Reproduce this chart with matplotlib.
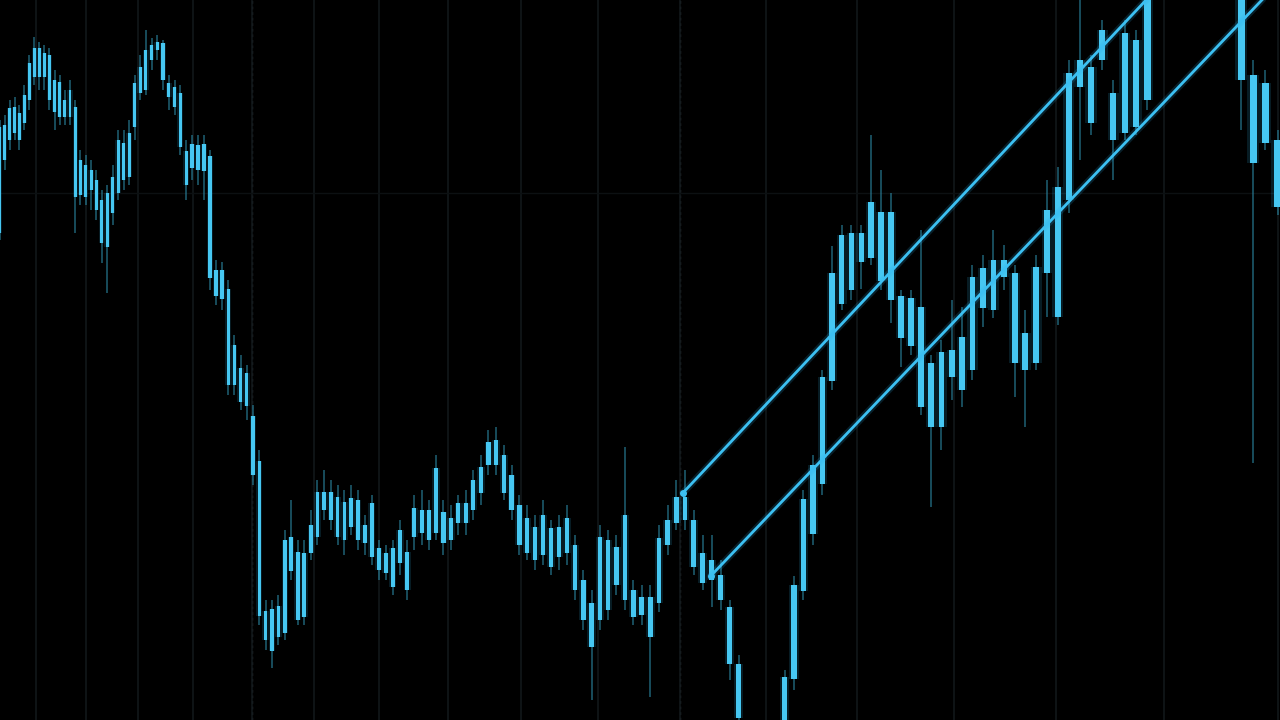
import numpy as np
import matplotlib
matplotlib.use("Agg")
import matplotlib.pyplot as plt

# one candle per session, prices in chart units
body_top = [
    593, 595, 612, 613, 607, 625, 657, 672, 672, 667,
    665, 640, 638, 620, 630, 613, 560, 555, 550, 540,
    520, 527, 543, 580, 577, 587, 637, 653, 670, 675,
    678, 677, 637, 633, 627, 569, 576, 575, 576, 564,
    450, 450, 431, 375, 352, 347, 304, 259, 109, 111,
    114, 180, 183, 168, 167, 195, 228, 228, 228, 223,
    218, 222, 220, 195, 217, 172, 167, 172, 190, 168,
    212, 210, 210, 252, 208, 202, 217, 217, 240, 253,
    278, 280, 265, 245, 215, 202, 193, 205, 192, 193,
    202, 175, 140, 117, 183, 180, 173, 205, 130, 123,
    123, 182, 200, 223, 223, 200, 167, 160, 145, 113,
    56, -10, -20, -25, -15, 43, 135, 221, 255, 343,
    447, 485, 487, 487, 518, 508, 508, 424, 422, 413,
    357, 368, 370, 383, 443, 452, 460, 460, 447, 387,
    453, 510, 533, 647, 660, 653, 690, 627, 687, 680,
    730, 850, 880, 900, 870, 860, 830, 800, 740, 645,
    637, 580,
]
body_bottom = [
    487, 560, 580, 587, 580, 597, 620, 643, 643, 643,
    620, 608, 603, 603, 603, 523, 525, 523, 530, 510,
    477, 473, 507, 527, 540, 543, 593, 627, 630, 660,
    670, 640, 623, 613, 573, 535, 552, 550, 549, 442,
    424, 421, 335, 335, 318, 314, 245, 104, 80, 69,
    83, 87, 149, 100, 103, 167, 183, 210, 200, 183,
    180, 193, 180, 177, 163, 150, 147, 133, 157, 130,
    183, 187, 180, 187, 177, 180, 197, 197, 210, 227,
    255, 255, 227, 210, 175, 167, 160, 165, 153, 163,
    167, 130, 100, 73, 100, 110, 135, 120, 103, 105,
    83, 117, 175, 197, 200, 153, 137, 140, 120, 56,
    2, -40, -60, -70, -50, -10, 41, 129, 186, 236,
    339, 416, 430, 458, 462, 439, 420, 382, 374, 313,
    293, 293, 343, 330, 350, 412, 410, 443, 357, 350,
    357, 447, 403, 520, 633, 597, 660, 580, 587, 593,
    620, 760, 800, 830, 790, 780, 760, 735, 640, 557,
    577, 513,
]
high = [
    600, 605, 620, 623, 615, 635, 665, 683, 678, 675,
    672, 650, 645, 630, 640, 620, 570, 565, 560, 550,
    530, 535, 555, 590, 590, 600, 645, 665, 690, 682,
    685, 680, 645, 640, 635, 580, 585, 585, 585, 570,
    460, 458, 440, 385, 365, 355, 315, 270, 120, 120,
    125, 190, 220, 180, 180, 210, 240, 250, 240, 235,
    230, 235, 230, 205, 225, 180, 175, 180, 200, 180,
    225, 230, 220, 265, 220, 215, 225, 230, 250, 265,
    290, 293, 275, 255, 225, 215, 205, 220, 200, 205,
    215, 185, 150, 130, 195, 190, 185, 273, 140, 135,
    135, 195, 215, 240, 250, 210, 185, 185, 160, 120,
    65, 0, -10, -15, -5, 50, 144, 230, 265, 350,
    474, 495, 495, 495, 585, 550, 527, 430, 430, 490,
    365, 380, 420, 413, 455, 465, 490, 475, 455, 410,
    465, 540, 553, 660, 720, 665, 700, 640, 700, 690,
    740, 870, 900, 920, 890, 880, 850, 830, 750, 660,
    650, 590,
]
low = [
    480, 550, 570, 580, 570, 590, 610, 635, 630, 630,
    610, 590, 595, 595, 595, 487, 515, 515, 510, 500,
    457, 427, 495, 520, 530, 535, 580, 620, 625, 650,
    660, 630, 610, 605, 565, 520, 540, 535, 520, 430,
    415, 410, 325, 325, 310, 300, 235, 95, 70, 52,
    75, 80, 140, 95, 95, 160, 175, 200, 190, 175,
    165, 185, 170, 165, 155, 140, 140, 125, 145, 120,
    170, 175, 170, 180, 165, 170, 185, 185, 200, 215,
    245, 245, 220, 200, 165, 160, 150, 155, 145, 150,
    155, 120, 90, 20, 90, 100, 125, 110, 95, 95,
    23, 108, 165, 190, 190, 145, 130, 113, 110, 40,
    -10, -50, -70, -80, -60, -20, 30, 120, 175, 225,
    330, 410, 420, 431, 455, 430, 397, 353, 365, 305,
    213, 270, 320, 313, 340, 393, 402, 430, 323, 293,
    350, 403, 395, 507, 560, 585, 650, 540, 580, 585,
    610, 745, 780, 800, 770, 765, 740, 725, 590, 257,
    570, 505,
]

# two parallel trend lines (session, price)
upper_t = [103.75, 150.7]
upper_p = [227, 730]
lower_t = [106.9, 160.5]
lower_p = [144, 730]

# the photo is taken at an angle: later sessions are closer to the camera
K = 0.0058


def fwd(t):
    return np.exp(K * np.asarray(t, dtype=float))


def inv(v):
    return np.log(np.maximum(np.asarray(v, dtype=float), 1e-9)) / K


t = np.arange(len(high))
top = np.array(body_top, dtype=float)
bot = np.array(body_bottom, dtype=float)

fig = plt.figure(figsize=(12.8, 7.2), dpi=100, facecolor="black")
ax = fig.add_axes([0, 0, 1, 1], facecolor="black")
ax.set_xscale("function", functions=(fwd, inv))

# wicks
ax.vlines(t, low, high, color="#2b8aa6", lw=1.1, alpha=0.7, zorder=2)
# glow + bodies
ax.bar(t, top - bot, bottom=bot, width=1.0, color="#2fb4e6", alpha=0.16, lw=0, zorder=3)
ax.bar(t, top - bot, bottom=bot, width=0.55, color="#46c7f2", lw=0, zorder=4)

# trend lines
for tt, pp in [(upper_t, upper_p), (lower_t, lower_p)]:
    ax.plot(tt, pp, color="#2fb0e8", lw=5, alpha=0.18, solid_capstyle="round", zorder=5)
    ax.plot(tt, pp, color="#3cc0f2", lw=2.0, solid_capstyle="round", zorder=6)
    ax.plot(tt[0], pp[0], "o", ms=4, color="#3cc0f2", zorder=6)

ax.set_xlim(0, 161.2)
ax.set_ylim(0, 720)

# faint time grid
ax.set_xticks(np.arange(7.4, 162, 9.6))
ax.set_yticks([527])
ax.grid(True, axis="x", color="#11171a", lw=1.2)
ax.grid(True, axis="y", color="#0c1012", lw=1.0)
ax.tick_params(length=0, labelbottom=False, labelleft=False)
for s in ax.spines.values():
    s.set_visible(False)
for gx in [45.8, 103.4]:
    ax.axvline(gx, color="#2a3236", lw=1.0, ls=(0, (2, 2)), zorder=1)

fig.savefig("out.png", dpi=100, facecolor="black")
